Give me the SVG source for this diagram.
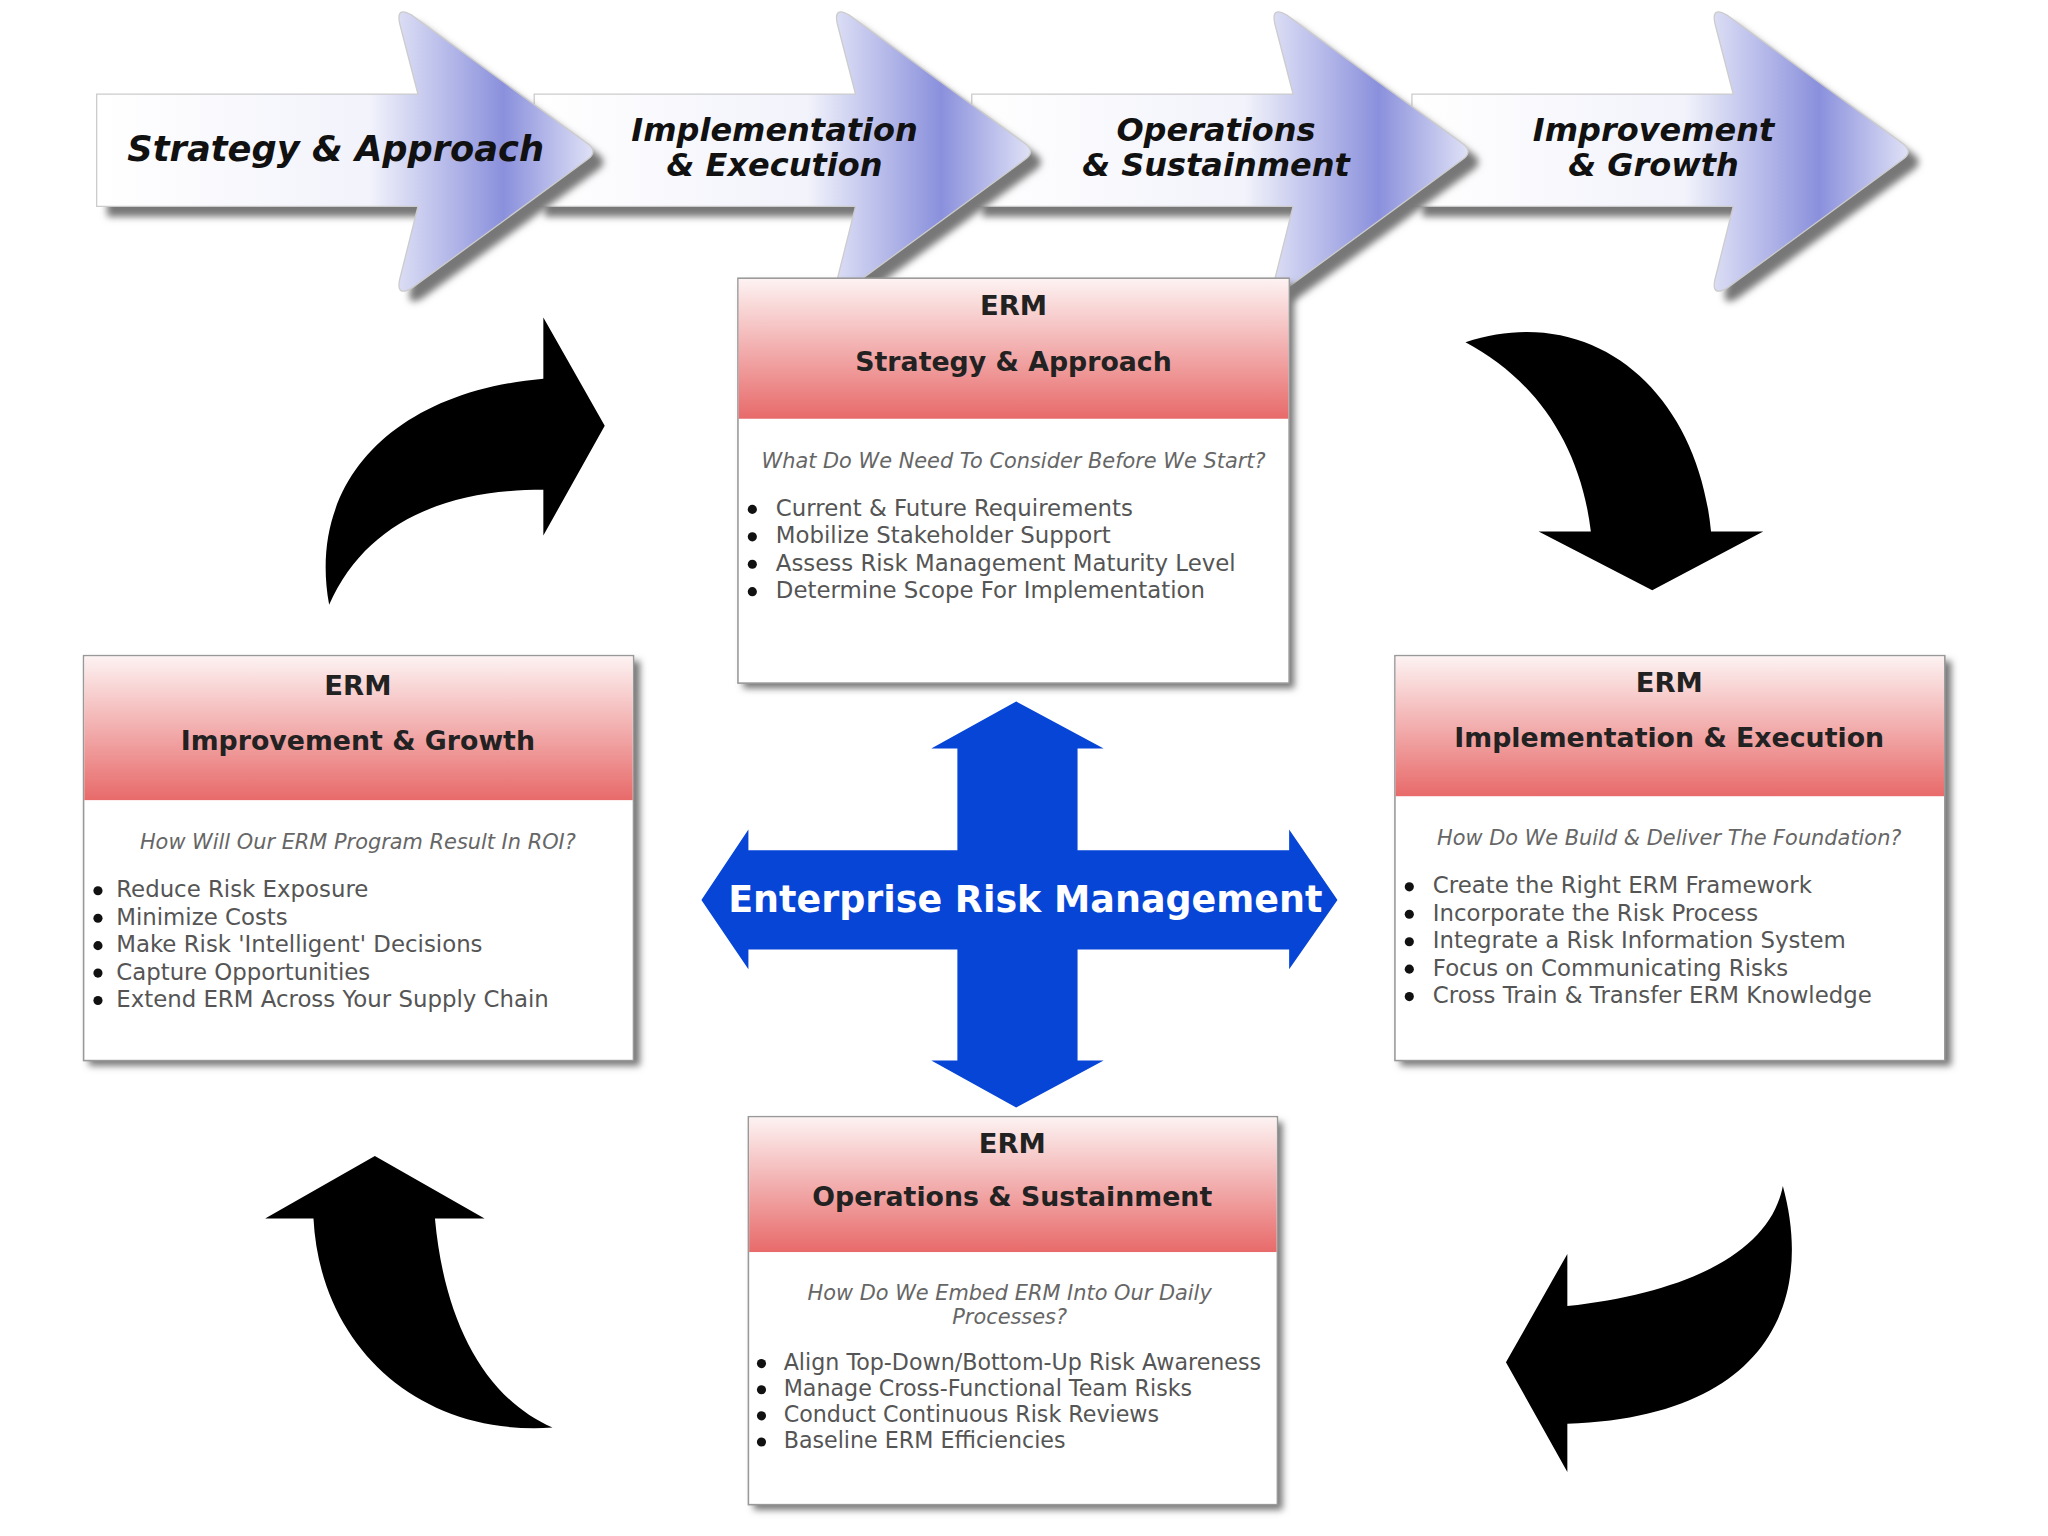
<svg xmlns="http://www.w3.org/2000/svg" width="2048" height="1536" viewBox="0 0 2048 1536">
<defs>
<linearGradient id="ban" x1="0" y1="0" x2="1" y2="0"><stop offset="0" stop-color="#ffffff"/><stop offset="0.55" stop-color="#f2f3fb"/><stop offset="0.82" stop-color="#8a90dc"/><stop offset="1" stop-color="#dfe1f6"/></linearGradient>
<linearGradient id="hdr" x1="0" y1="0" x2="0" y2="1"><stop offset="0" stop-color="#fdf2f2"/><stop offset="1" stop-color="#e86a6a"/></linearGradient>
<filter id="sh" x="-10%" y="-10%" width="130%" height="130%"><feGaussianBlur stdDeviation="3"/></filter>
<path id="chev" d="M0,72 L246,72 L232,18 Q229,4 242,12 L376,110 Q384,116 376,122 L242,220 Q229,228 232,214 L246,158 L0,158 Z"/>
</defs>
<style>
.bt{font-family:"DejaVu Sans",Verdana,sans-serif;font-weight:bold;font-style:italic;font-size:27px;fill:#111;text-anchor:middle}
.bt2{font-family:"DejaVu Sans",Verdana,sans-serif;font-weight:bold;font-style:italic;font-size:24.5px;fill:#111;text-anchor:middle}
.erm{font-family:"DejaVu Sans",Verdana,sans-serif;font-weight:bold;font-size:21px;fill:#222;text-anchor:middle}
.ttl{font-family:"DejaVu Sans",Verdana,sans-serif;font-weight:bold;font-size:20.5px;fill:#222;text-anchor:middle}
.q{font-family:"DejaVu Sans",Verdana,sans-serif;font-style:italic;font-size:16px;fill:#666;text-anchor:middle}
.b{font-family:"DejaVu Sans",Verdana,sans-serif;font-size:17.5px;fill:#555}
.b2{font-family:"DejaVu Sans",Verdana,sans-serif;font-size:17px;fill:#555}
.d{fill:#111}
.box{fill:#fff;stroke:#999;stroke-width:1.2}
.hd{fill:url(#hdr)}
.shd{fill:#777;filter:url(#sh)}
.blk{fill:#000}
</style>
<g transform="scale(1.30612)">
<g id="banner">
<g transform="translate(1081,0)"><use href="#chev" transform="translate(8,8)" class="shd"/><use href="#chev" fill="url(#ban)" stroke="#ccc"/></g>
<g transform="translate(744,0)"><use href="#chev" transform="translate(8,8)" class="shd"/><use href="#chev" fill="url(#ban)" stroke="#ccc"/></g>
<g transform="translate(409,0)"><use href="#chev" transform="translate(8,8)" class="shd"/><use href="#chev" fill="url(#ban)" stroke="#ccc"/></g>
<g transform="translate(74,0)"><use href="#chev" transform="translate(8,8)" class="shd"/><use href="#chev" fill="url(#ban)" stroke="#ccc"/></g>
<text class="bt" x="257" y="123">Strategy &amp; Approach</text>
<text class="bt2" x="593" y="108">Implementation</text><text class="bt2" x="593" y="135">&amp; Execution</text>
<text class="bt2" x="931" y="108">Operations</text><text class="bt2" x="931" y="135">&amp; Sustainment</text>
<text class="bt2" x="1266" y="108">Improvement</text><text class="bt2" x="1266" y="135">&amp; Growth</text>
</g>
<g id="connectors">
<path class="blk" d="M416,290 L416,243 L463,326 L416,410 L416,375 C340,375 280,400 252,463 C235,370 300,300 416,290 Z"/>
<path class="blk" d="M1122,262 C1220,230 1300,300 1310,407 L1350,407 L1265,452 L1178,407 L1218,407 C1210,340 1175,290 1122,262 Z"/>
<path class="blk" d="M1365,908 C1390,1000 1350,1085 1200,1090 L1200,1127 L1153,1043 L1200,960 L1200,1000 C1290,990 1355,960 1365,908 Z"/>
<path class="blk" d="M423,1093 C320,1100 245,1030 240,933 L203,933 L287,885 L371,933 L333,933 C340,1010 370,1070 423,1093 Z"/>
</g>
<g id="cross">
<path fill="#0645d6" d="M778,537 L845,573 L825,573 L825,651 L987,651 L987,635 L1024,689 L987,742 L987,727 L825,727 L825,812 L845,812 L778,848 L713,812 L733,812 L733,727 L573,727 L573,742 L537,689 L573,635 L573,651 L733,651 L733,573 L713,573 Z"/>
<text x="785" y="698" textLength="455" lengthAdjust="spacingAndGlyphs" style="font-family:'DejaVu Sans',Verdana,sans-serif;font-weight:bold;font-size:28px;fill:#fff;text-anchor:middle">Enterprise Risk Management</text>
</g>
<g id="box-strategy">
<rect x="569" y="217" width="422" height="310" class="shd"/>
<rect x="565" y="213" width="422" height="310" class="box"/>
<rect x="565.6" y="213.6" width="420.8" height="107" class="hd"/>
<text class="erm" x="776" y="241">ERM</text>
<text class="ttl" x="776" y="284">Strategy &amp; Approach</text>
<text class="q" x="776" y="358">What Do We Need To Consider Before We Start?</text>
<g class="b"><circle class="d" cx="576" cy="390" r="3.5"/><text x="594" y="395">Current &amp; Future Requirements</text>
<circle class="d" cx="576" cy="411" r="3.5"/><text x="594" y="416">Mobilize Stakeholder Support</text>
<circle class="d" cx="576" cy="432" r="3.5"/><text x="594" y="437">Assess Risk Management Maturity Level</text>
<circle class="d" cx="576" cy="453" r="3.5"/><text x="594" y="458">Determine Scope For Implementation</text></g>
</g>
<g id="box-improvement">
<rect x="68" y="506" width="422" height="310" class="shd"/>
<rect x="64" y="502" width="421" height="310" class="box"/>
<rect x="64.6" y="502.6" width="419.8" height="110" class="hd"/>
<text class="erm" x="274" y="532">ERM</text>
<text class="ttl" x="274" y="574">Improvement &amp; Growth</text>
<text class="q" x="274" y="650">How Will Our ERM Program Result In ROI?</text>
<g class="b"><circle class="d" cx="75" cy="682" r="3.5"/><text x="89" y="687">Reduce Risk Exposure</text>
<circle class="d" cx="75" cy="703" r="3.5"/><text x="89" y="708">Minimize Costs</text>
<circle class="d" cx="75" cy="724" r="3.5"/><text x="89" y="729">Make Risk 'Intelligent' Decisions</text>
<circle class="d" cx="75" cy="745" r="3.5"/><text x="89" y="750">Capture Opportunities</text>
<circle class="d" cx="75" cy="766" r="3.5"/><text x="89" y="771">Extend ERM Across Your Supply Chain</text></g>
</g>
<g id="box-implementation">
<rect x="1072" y="506" width="422" height="310" class="shd"/>
<rect x="1068" y="502" width="421" height="310" class="box"/>
<rect x="1068.6" y="502.6" width="419.8" height="107" class="hd"/>
<text class="erm" x="1278" y="530">ERM</text>
<text class="ttl" x="1278" y="572">Implementation &amp; Execution</text>
<text class="q" x="1278" y="647">How Do We Build &amp; Deliver The Foundation?</text>
<g class="b"><circle class="d" cx="1079" cy="679" r="3.5"/><text x="1097" y="684">Create the Right ERM Framework</text>
<circle class="d" cx="1079" cy="700" r="3.5"/><text x="1097" y="705">Incorporate the Risk Process</text>
<circle class="d" cx="1079" cy="721" r="3.5"/><text x="1097" y="726">Integrate a Risk Information System</text>
<circle class="d" cx="1079" cy="742" r="3.5"/><text x="1097" y="747">Focus on Communicating Risks</text>
<circle class="d" cx="1079" cy="763" r="3.5"/><text x="1097" y="768">Cross Train &amp; Transfer ERM Knowledge</text></g>
</g>
<g id="box-operations">
<rect x="577" y="859" width="405" height="297" class="shd"/>
<rect x="573" y="855" width="405" height="297" class="box"/>
<rect x="573.6" y="855.6" width="403.8" height="103" class="hd"/>
<text class="erm" x="775" y="883">ERM</text>
<text class="ttl" x="775" y="923">Operations &amp; Sustainment</text>
<text class="q" x="773" y="995">How Do We Embed ERM Into Our Daily</text>
<text class="q" x="773" y="1014">Processes?</text>
<g class="b2"><circle class="d" cx="583" cy="1044" r="3.5"/><text x="600" y="1049">Align Top-Down/Bottom-Up Risk Awareness</text>
<circle class="d" cx="583" cy="1064" r="3.5"/><text x="600" y="1069">Manage Cross-Functional Team Risks</text>
<circle class="d" cx="583" cy="1084" r="3.5"/><text x="600" y="1089">Conduct Continuous Risk Reviews</text>
<circle class="d" cx="583" cy="1104" r="3.5"/><text x="600" y="1109">Baseline ERM Efficiencies</text></g>
</g>
</g>
</svg>
